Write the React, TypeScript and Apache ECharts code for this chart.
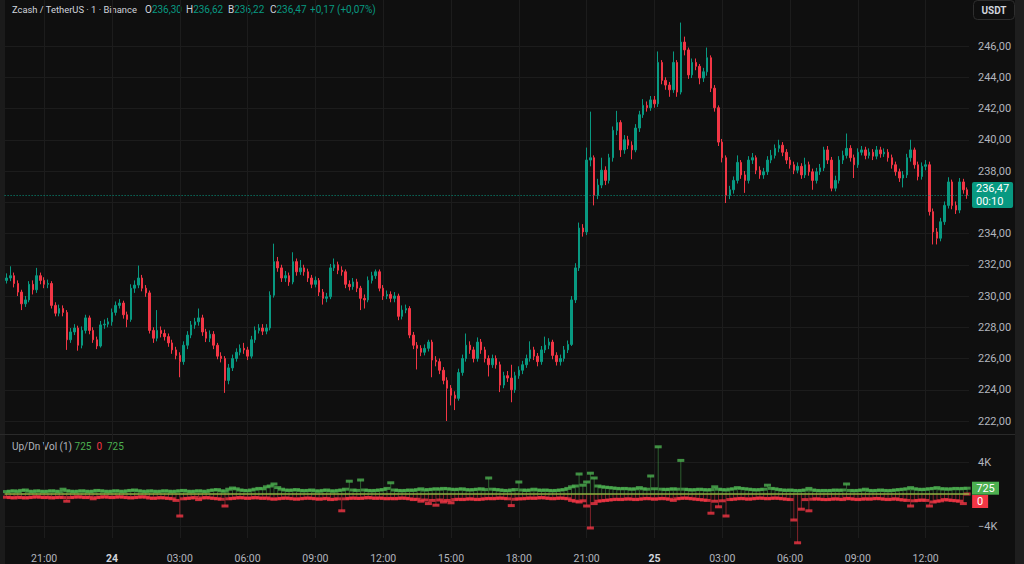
import { useEffect, useRef } from 'react';
import * as echarts from 'echarts';

// ---- price data: 10-minute candles, 19:20 (23rd) .. 13:50 (25th) ----
const FIRST_OPEN = 231.0;
const CLOSE = [
  231.15, 231.3, 230.8, 230.25, 229.5, 229.75, 230.75, 230.4, 231.3, 231.0,
  230.75, 230.8, 229.4, 228.9, 229.2, 228.95, 227.2, 227.7, 227.95, 226.85,
  227.8, 228.6, 227.8, 227.2, 226.8, 228.15, 228.2, 228.35, 228.95, 229.4,
  229.55, 228.8, 228.5, 230.5, 230.7, 231.15, 230.5, 230.2, 227.8, 227.3,
  227.8, 227.6, 227.4, 227.0, 226.55, 226.2, 225.8, 226.85, 227.5, 228.15,
  228.35, 228.6, 227.7, 227.3, 227.55, 226.85, 226.15, 226.0, 224.6, 225.4,
  226.0, 226.4, 226.65, 226.55, 226.15, 227.2, 227.8, 227.95, 227.75, 227.95,
  230.05, 232.2, 231.8, 231.15, 231.3, 230.9, 232.2, 231.55, 231.8, 231.55,
  231.15, 230.75, 231.0, 230.25, 229.85, 229.95, 231.8, 232.0, 231.65, 231.55,
  230.75, 230.6, 230.9, 230.5, 229.85, 229.75, 231.0, 231.3, 231.55, 230.5,
  230.0, 230.1, 229.85, 230.0, 228.7, 229.1, 229.2, 227.5, 226.85, 226.65,
  226.4, 226.65, 227.05, 225.9, 225.8, 225.25, 224.6, 224.1, 223.65, 223.45,
  225.1, 226.0, 226.85, 226.55, 226.0, 227.05, 226.55, 226.0, 225.6, 226.0,
  225.6, 224.3, 224.9, 224.75, 224.0, 224.9, 225.25, 225.6, 226.0, 226.55,
  226.15, 225.8, 226.55, 226.85, 227.05, 226.2, 225.8, 226.0, 226.55, 226.9,
  229.75, 231.8, 234.35, 234.1, 238.7, 238.85, 236.45, 237.1, 238.05, 237.4,
  238.85, 240.6, 241.1, 239.35, 240.0, 239.65, 239.35, 240.75, 241.6, 242.2,
  242.05, 242.55, 242.3, 244.95, 243.8, 243.5, 243.2, 244.95, 243.05, 246.25,
  245.75, 244.15, 244.95, 244.7, 243.95, 244.35, 245.25, 243.3, 242.05, 239.85,
  238.85, 236.45, 236.8, 237.4, 238.55, 237.75, 237.4, 238.7, 238.85, 238.05,
  237.75, 237.95, 238.7, 239.0, 239.45, 239.65, 239.2, 238.7, 238.4, 238.05,
  238.3, 237.75, 238.4, 237.95, 237.4, 237.95, 238.2, 239.35, 238.7, 236.9,
  237.4, 238.7, 239.0, 239.45, 238.85, 238.4, 239.2, 239.35, 239.0, 239.2,
  238.95, 239.35, 239.1, 239.2, 238.85, 238.4, 237.95, 237.55, 237.75, 238.85,
  239.35, 238.4, 237.65, 238.3, 238.4, 235.4, 234.1, 233.7, 234.75, 235.8,
  237.3, 235.8, 235.5, 237.3, 236.8, 236.47,
];
const HIGH = [
  231.45, 231.9, 231.5, 231.0, 230.4, 230.0, 230.95, 231.0, 231.8, 231.5,
  231.2, 231.05, 230.95, 229.6, 229.45, 229.4, 229.1, 227.95, 228.2, 228.1,
  228.05, 228.8, 228.75, 228.0, 227.4, 228.4, 228.5, 228.6, 229.2, 229.65,
  229.8, 229.7, 229.0, 230.75, 231.0, 231.95, 231.35, 230.7, 230.35, 228.0,
  229.1, 228.05, 227.85, 227.6, 227.2, 226.75, 226.4, 227.1, 227.75, 228.4,
  228.6, 229.2, 228.8, 227.9, 227.8, 227.75, 227.0, 226.4, 226.15, 225.65,
  226.25, 226.65, 226.9, 227.0, 226.75, 227.45, 228.05, 228.2, 228.2, 228.2,
  230.3, 233.35, 232.5, 232.0, 231.6, 231.5, 232.8, 232.4, 232.3, 232.0,
  231.75, 231.35, 231.25, 231.15, 230.45, 230.2, 232.05, 232.4, 232.2, 231.9,
  231.7, 231.0, 231.15, 231.1, 230.65, 230.1, 231.25, 231.55, 231.7, 231.7,
  230.7, 230.35, 230.3, 230.25, 230.15, 229.4, 229.45, 229.35, 227.7, 227.05,
  226.85, 226.9, 227.2, 227.2, 226.15, 226.0, 225.45, 224.8, 224.3, 223.9,
  225.35, 226.25, 227.6, 227.1, 226.75, 227.35, 227.25, 226.75, 226.2, 226.25,
  226.2, 225.8, 225.15, 225.2, 225.6, 225.15, 225.5, 225.85, 226.25, 227.1,
  226.75, 226.35, 226.8, 227.4, 227.3, 227.2, 226.4, 226.25, 226.8, 227.15,
  230.0, 232.1, 234.7, 234.6, 239.5, 241.8, 239.0, 237.5, 238.85, 238.3,
  239.1, 240.85, 241.85, 241.25, 240.3, 240.25, 239.9, 241.0, 241.85, 242.6,
  242.45, 242.8, 242.8, 245.65, 245.1, 244.0, 243.7, 245.65, 245.1, 247.5,
  246.6, 245.9, 245.2, 245.2, 244.85, 244.6, 245.9, 245.4, 243.5, 242.2,
  240.05, 239.0, 237.05, 237.65, 239.0, 238.7, 238.0, 238.95, 239.15, 239.0,
  238.3, 238.2, 238.95, 239.35, 239.7, 240.0, 239.85, 239.4, 238.9, 238.6,
  238.55, 238.5, 238.85, 238.6, 238.15, 238.2, 238.45, 239.55, 239.6, 238.9,
  237.7, 238.95, 239.3, 240.4, 239.65, 239.05, 239.45, 239.6, 239.55, 239.45,
  239.4, 239.6, 239.55, 239.45, 239.4, 239.05, 238.6, 238.15, 238.0, 239.1,
  240.0, 239.5, 238.6, 238.55, 238.7, 238.6, 235.6, 234.35, 235.0, 236.05,
  237.6, 237.45, 236.05, 237.55, 237.5, 236.95,
];
const LOW = [
  230.8, 230.95, 230.55, 230.0, 229.1, 229.3, 229.6, 230.1, 230.2, 230.75,
  230.5, 230.5, 229.2, 228.7, 228.7, 228.7, 226.55, 227.0, 227.5, 226.5,
  226.65, 227.6, 227.55, 227.0, 226.6, 226.7, 227.9, 228.0, 228.1, 228.75,
  229.2, 228.55, 228.0, 228.35, 230.2, 230.5, 230.3, 229.95, 227.6, 227.0,
  227.1, 227.35, 227.15, 226.75, 226.3, 225.95, 224.8, 225.6, 226.6, 227.3,
  227.9, 228.1, 227.45, 227.05, 227.05, 226.6, 225.95, 225.75, 223.8, 224.35,
  225.2, 225.8, 226.2, 226.3, 225.9, 226.0, 227.0, 227.6, 227.5, 227.55,
  227.8, 229.9, 231.55, 230.9, 230.9, 230.65, 230.75, 231.3, 231.35, 231.3,
  230.9, 230.5, 230.55, 230.0, 229.45, 229.6, 229.8, 231.6, 231.4, 231.3,
  230.5, 230.35, 230.4, 230.25, 229.1, 229.2, 229.6, 230.8, 231.1, 230.3,
  229.75, 229.8, 229.6, 229.6, 228.45, 228.5, 228.9, 227.3, 226.6, 225.3,
  226.15, 226.2, 226.45, 224.8, 225.5, 225.0, 224.35, 222.0, 223.0, 222.7,
  223.3, 224.9, 225.8, 226.3, 225.75, 225.8, 226.3, 225.75, 224.85, 225.4,
  225.35, 223.85, 224.1, 224.5, 223.2, 223.8, 224.7, 225.0, 225.4, 225.8,
  225.9, 225.5, 225.6, 226.35, 226.6, 225.95, 225.55, 225.55, 225.8, 226.35,
  226.8, 229.55, 231.6, 233.8, 233.9, 238.3, 235.8, 236.2, 236.9, 237.1,
  237.2, 238.6, 240.3, 238.9, 239.1, 239.4, 238.75, 239.2, 240.5, 241.4,
  241.8, 241.85, 242.05, 242.1, 243.55, 243.2, 242.75, 243.0, 242.75, 242.9,
  245.4, 243.9, 243.95, 244.45, 243.55, 243.7, 244.1, 243.05, 241.8, 239.6,
  238.55, 235.95, 236.2, 236.55, 237.2, 237.5, 236.6, 237.2, 238.45, 237.8,
  237.5, 237.5, 237.75, 238.5, 238.8, 239.2, 238.95, 238.45, 238.15, 237.8,
  237.85, 237.5, 237.55, 237.7, 236.8, 237.2, 237.75, 238.0, 238.45, 236.7,
  236.7, 237.2, 238.45, 238.8, 238.6, 237.55, 238.2, 239.0, 238.75, 238.8,
  238.7, 238.75, 238.85, 238.9, 238.6, 238.15, 237.7, 237.3, 236.95, 237.55,
  238.6, 238.15, 237.4, 237.45, 238.05, 235.15, 233.3, 233.3, 233.5, 234.55,
  235.6, 235.55, 235.25, 235.3, 236.55, 236.22,
];

// ---- up / down volume (per-minute scale as shown) ----
const UP_VOL = [
  300, 350, 400, 300, 450, 500, 350, 300, 400, 350,
  300, 350, 400, 350, 300, 600, 400, 350, 300, 350,
  400, 350, 300, 350, 450, 400, 350, 300, 350, 400,
  350, 300, 400, 450, 500, 400, 350, 300, 400, 350,
  300, 350, 400, 350, 300, 350, 400, 450, 350, 300,
  350, 400, 350, 300, 450, 500, 550, 400, 350, 600,
  750, 650, 500, 450, 400, 500, 600, 700, 650, 900,
  1000, 1250, 800, 600, 500, 450, 500, 550, 450, 400,
  450, 500, 400, 350, 450, 500, 400, 350, 450, 500,
  600, 1600, 500, 450, 1750, 500, 450, 400, 450, 500,
  550, 700, 1400, 500, 450, 400, 450, 500, 450, 550,
  650, 500, 550, 600, 650, 600, 700, 650, 600, 550,
  600, 650, 550, 500, 550, 600, 650, 550, 2000, 600,
  550, 500, 450, 400, 500, 550, 1500, 500, 450, 500,
  600, 500, 450, 500, 450, 400, 450, 500, 550, 700,
  900, 1000, 2500, 1100, 1500, 2600, 2000, 1000, 900, 850,
  800, 750, 700, 650, 700, 650, 600, 650, 800, 650,
  600, 2250, 650, 5900, 600, 550, 600, 650, 600, 4200,
  600, 550, 500, 550, 600, 550, 500, 550, 900, 600,
  550, 500, 600, 650, 800, 700, 650, 600, 550, 500,
  550, 600, 1100, 700, 650, 550, 500, 450, 500, 450,
  400, 450, 500, 700, 500, 450, 400, 450, 400, 450,
  500, 450, 500, 1250, 450, 400, 450, 500, 600, 450,
  400, 450, 500, 450, 400, 450, 500, 550, 600, 650,
  800, 650, 600, 550, 600, 650, 700, 800, 650, 650,
  600, 650, 700, 650, 700, 725,
];
const DOWN_VOL = [
  -400, -450, -500, -400, -450, -500, -450, -400, -350, -400,
  -450, -400, -500, -450, -400, -450, -900, -450, -400, -350,
  -400, -450, -400, -600, -450, -400, -350, -400, -450, -400,
  -350, -400, -450, -500, -450, -400, -350, -400, -500, -550,
  -500, -450, -500, -550, -600, -800, -2750, -600, -550, -500,
  -450, -700, -500, -450, -500, -550, -600, -650, -1500, -600,
  -550, -500, -450, -500, -550, -500, -450, -500, -550, -500,
  -600, -650, -600, -550, -500, -550, -600, -650, -600, -550,
  -500, -550, -600, -650, -600, -550, -700, -650, -600, -2100,
  -600, -550, -500, -550, -550, -500, -450, -500, -550, -500,
  -550, -600, -550, -600, -550, -500, -550, -600, -700, -650,
  -900, -750, -1200, -800, -1400, -750, -1000, -800, -1100, -700,
  -650, -700, -650, -600, -650, -700, -650, -600, -550, -600,
  -550, -500, -550, -600, -1450, -650, -600, -600, -550, -500,
  -550, -500, -450, -500, -550, -600, -550, -500, -550, -600,
  -800, -900, -1000, -850, -1500, -4250, -1200, -900, -850, -800,
  -750, -700, -650, -700, -650, -600, -650, -700, -650, -600,
  -550, -600, -650, -600, -550, -600, -650, -800, -600, -550,
  -500, -550, -600, -650, -700, -750, -800, -2400, -900, -1600,
  -850, -2750, -700, -650, -600, -550, -600, -650, -600, -550,
  -500, -550, -600, -550, -500, -550, -600, -650, -700, -3250,
  -6100, -1900, -700, -2100, -650, -600, -650, -700, -700, -650,
  -600, -650, -700, -550, -600, -650, -700, -650, -600, -650,
  -600, -550, -600, -650, -700, -650, -600, -700, -750, -800,
  -1500, -850, -800, -750, -800, -1500, -1000, -900, -850, -700,
  -750, -800, -850, -900, -1200, 0,
];

const TIME_TICKS = ['21:00', '24', '03:00', '06:00', '09:00', '12:00', '15:00', '18:00', '21:00', '25', '03:00', '06:00', '09:00', '12:00'];
const FIRST_TICK_INDEX = 10;
const TICK_EVERY = 18;
const START_DAY = 23;
const START_MINUTE = 19 * 60 + 20;
const STEP_MINUTES = 10;

const LAST_PRICE = 236.47;
const LAST_PRICE_TEXT = '236,47';
const COUNTDOWN = '00:10';
const LAST_UP = 725;
const LAST_DOWN = 0;
const TITLE = 'Zcash / TetherUS · 1 · Binance';
const HEADER_ITEMS = [
  { k: 'O', v: '236,30' },
  { k: 'H', v: '236,62' },
  { k: 'B', v: '236,22' },
  { k: 'C', v: '236,47' },
  { k: '', v: '+0,17 (+0,07%)' },
];
const VOL_TITLE = 'Up/Dn Vol (1)';

const UP = '#089981';
const DOWN = '#f23645';
const VOL_UP = '#4caf50';
const VOL_DOWN = '#f23645';
const BG = '#0f0f0f';
const GRID = '#1c1c1c';
const LABEL = '#b2b5be';
const FONT = 'Roboto, "Noto Sans", sans-serif';

const pad = (n: number) => (n < 10 ? '0' + n : String(n));
const CATEGORIES = CLOSE.map((_, i) => {
  const m = START_MINUTE + i * STEP_MINUTES;
  const day = START_DAY + Math.floor(m / 1440);
  const mm = m % 1440;
  const hh = Math.floor(mm / 60);
  const mi = mm % 60;
  return hh === 0 && mi === 0 ? String(day) : pad(hh) + ':' + pad(mi);
});

const CANDLES = CLOSE.map((c, i) => [i === 0 ? FIRST_OPEN : CLOSE[i - 1], c, LOW[i], HIGH[i]]);

const isTick = (idx: number) => idx >= FIRST_TICK_INDEX && (idx - FIRST_TICK_INDEX) % TICK_EVERY === 0;
const fmtPrice = (v: number) => v.toFixed(2).replace('.', ',');

// x positions of the header groups (layout only)
const HEADER_X = [145, 186, 228, 270, 310];

export default function App() {
  const ref = useRef<HTMLDivElement>(null);
  useEffect(() => {
    if (!ref.current) return;
    const chart = echarts.init(ref.current, undefined, { renderer: 'svg' });
    const lastIdx = CLOSE.length - 1;
    const hiddenCat = {
      type: 'category' as const,
      data: CATEGORIES,
      boundaryGap: true,
      axisLine: { show: false },
      axisTick: { show: false },
      axisLabel: { show: false },
      splitLine: { show: false },
    };
    const headerTexts = HEADER_ITEMS.map((it, i) => ({
      type: 'text',
      x: HEADER_X[i],
      y: 9,
      silent: true,
      style: {
        text: (it.k ? '{k|' + it.k + '}' : '') + '{v|' + it.v + '}',
        verticalAlign: 'middle',
        fontFamily: FONT,
        fontSize: 10,
        rich: {
          k: { fill: '#d1d4dc', fontSize: 10, fontFamily: FONT },
          v: { fill: UP, fontSize: 10, fontFamily: FONT },
        },
      },
    }));
    chart.setOption({
      animation: false,
      backgroundColor: BG,
      textStyle: { fontFamily: FONT },
      grid: [
        { left: 4.6, right: 55, top: 46, height: 375 },
        { left: 4.6, right: 55, top: 462, height: 64 },
        { left: 6.5, right: 56.9, top: 0, height: 553 },
      ],
      xAxis: [
        { ...hiddenCat, gridIndex: 0 },
        { ...hiddenCat, gridIndex: 1 },
        {
          type: 'category',
          gridIndex: 2,
          data: CATEGORIES,
          boundaryGap: false,
          axisLine: { show: false },
          axisTick: { show: false },
          axisLabel: {
            interval: (idx: number) => isTick(idx),
            formatter: (v: string, idx: number) => {
              const t = TIME_TICKS[(idx - FIRST_TICK_INDEX) / TICK_EVERY] ?? v;
              return t.length <= 2 ? '{d|' + t + '}' : t;
            },
            color: LABEL,
            fontSize: 10.5,
            margin: 15,
            fontFamily: FONT,
            rich: { d: { color: '#d1d4dc', fontSize: 10.5, fontWeight: 'bold', fontFamily: FONT } },
          },
          splitLine: { show: true, interval: (idx: number) => isTick(idx), lineStyle: { color: GRID, width: 1 } },
        },
      ],
      yAxis: [
        {
          type: 'value',
          gridIndex: 0,
          position: 'right',
          min: 222,
          max: 246,
          interval: 2,
          axisLine: { show: false },
          axisTick: { show: false },
          axisLabel: {
            margin: 9,
            color: LABEL,
            fontSize: 11,
            fontFamily: FONT,
            // the tick hidden under the last-price badge is not drawn
            formatter: (v: number) => (Math.abs(v - LAST_PRICE) < 1 ? '' : fmtPrice(v)),
          },
          splitLine: { lineStyle: { color: GRID, width: 1 } },
        },
        {
          type: 'value',
          gridIndex: 1,
          position: 'right',
          min: -4000,
          max: 4000,
          interval: 4000,
          axisLine: { show: false },
          axisTick: { show: false },
          axisLabel: {
            margin: 9,
            color: LABEL,
            fontSize: 11,
            fontFamily: FONT,
            formatter: (v: number) => (v === 0 ? '' : (v < 0 ? '\u2212' : '') + Math.abs(v / 1000) + 'K'),
          },
          splitLine: { lineStyle: { color: GRID, width: 1 } },
        },
        { type: 'value', gridIndex: 2, min: 0, max: 1, show: false },
      ],
      series: [
        {
          type: 'candlestick',
          xAxisIndex: 0,
          yAxisIndex: 0,
          data: CANDLES,
          barWidth: 2,
          clip: false,
          itemStyle: { color: UP, color0: DOWN, borderColor: UP, borderColor0: DOWN, borderWidth: 1 },
          markLine: {
            silent: true,
            symbol: ['none', 'none'],
            data: [{ yAxis: LAST_PRICE }],
            lineStyle: { color: UP, type: [1, 2], width: 1 },
            label: {
              show: true,
              position: 'end',
              distance: 3,
              formatter: LAST_PRICE_TEXT + '\n' + COUNTDOWN,
              backgroundColor: UP,
              color: '#ffffff',
              fontSize: 11,
              lineHeight: 13,
              padding: [0, 4, 0, 4],
              borderRadius: 2,
              fontFamily: FONT,
            },
          },
        },
        {
          type: 'bar',
          xAxisIndex: 1,
          yAxisIndex: 1,
          data: UP_VOL,
          barWidth: 1,
          barGap: '-100%',
          clip: false,
          itemStyle: { color: 'rgba(76,175,80,0.5)' },
          markLine: {
            silent: true,
            symbol: ['none', 'none'],
            data: [{ yAxis: 0 }],
            label: { show: false },
            lineStyle: { color: '#8fae3c', type: 'solid', width: 1.5 },
          },
        },
        {
          type: 'bar',
          xAxisIndex: 1,
          yAxisIndex: 1,
          data: DOWN_VOL,
          barWidth: 1,
          barGap: '-100%',
          clip: false,
          itemStyle: { color: 'rgba(242,54,69,0.5)' },
        },
        {
          type: 'scatter',
          xAxisIndex: 1,
          yAxisIndex: 1,
          data: UP_VOL,
          symbol: 'rect',
          symbolSize: [7, 3],
          clip: false,
          itemStyle: { color: VOL_UP },
          markPoint: {
            silent: true,
            data: [{ coord: [lastIdx, LAST_UP] }],
            symbol: 'rect',
            symbolSize: [27, 13],
            symbolOffset: [18.4, 0],
            itemStyle: { color: VOL_UP },
            label: { show: true, position: 'inside', formatter: String(LAST_UP), color: '#ffffff', fontSize: 11, fontFamily: FONT },
          },
        },
        {
          type: 'scatter',
          xAxisIndex: 1,
          yAxisIndex: 1,
          data: DOWN_VOL,
          symbol: 'rect',
          symbolSize: [7, 3],
          clip: false,
          itemStyle: { color: VOL_DOWN },
          markPoint: {
            silent: true,
            data: [{ coord: [lastIdx, LAST_DOWN] }],
            symbol: 'rect',
            symbolSize: [16, 13],
            symbolOffset: [13, 7.5],
            itemStyle: { color: VOL_DOWN },
            label: { show: true, position: 'inside', formatter: String(LAST_DOWN), color: '#ffffff', fontSize: 11, fontFamily: FONT },
          },
        },
      ],
      graphic: [
        { type: 'rect', left: 0, top: 0, shape: { width: 5, height: 564 }, style: { fill: '#1b1b1b' }, silent: true },
        { type: 'rect', left: 1015, top: 0, shape: { width: 9, height: 564 }, style: { fill: '#1e1e1e' }, silent: true },
        { type: 'line', shape: { x1: 0, y1: 434.5, x2: 1015, y2: 434.5 }, style: { stroke: '#2a2a2a', lineWidth: 1 }, silent: true },
        {
          type: 'text',
          x: 12,
          y: 9,
          silent: true,
          style: { text: TITLE, verticalAlign: 'middle', fill: '#d1d4dc', fontSize: 9.4, fontFamily: FONT },
        },
        ...headerTexts,
        {
          type: 'text',
          x: 12,
          y: 446,
          silent: true,
          style: {
            text: '{t|' + VOL_TITLE + '} {g|' + LAST_UP + '}  {r|' + LAST_DOWN + '}  {g|' + (LAST_UP - LAST_DOWN) + '}',
            verticalAlign: 'middle',
            fontFamily: FONT,
            fontSize: 10,
            rich: {
              t: { fill: '#b2b5be', fontSize: 10, fontFamily: FONT },
              g: { fill: VOL_UP, fontSize: 10, fontFamily: FONT },
              r: { fill: VOL_DOWN, fontSize: 10, fontFamily: FONT },
            },
          },
        },
        {
          type: 'rect',
          silent: true,
          shape: { x: 973.5, y: 0.5, width: 41, height: 19, r: 4 },
          style: { fill: BG, stroke: '#2e2e2e', lineWidth: 1 },
        },
        {
          type: 'text',
          silent: true,
          x: 994,
          y: 10,
          style: { text: 'USDT', align: 'center', verticalAlign: 'middle', fill: '#d1d4dc', fontSize: 10, fontWeight: 'bold', fontFamily: FONT },
        },
      ],
    });
    return () => chart.dispose();
  }, []);
  return <div ref={ref} style={{ position: 'fixed', left: 0, top: 0, width: 1024, height: 564, background: BG }} />;
}
